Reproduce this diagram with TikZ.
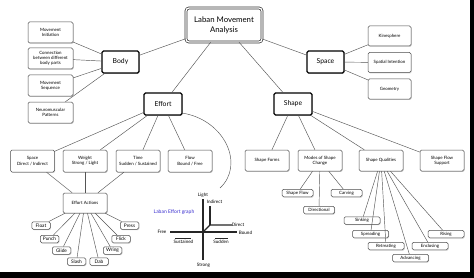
\documentclass[tikz,border=0pt]{standalone}
\usepackage{fontspec}
\setmainfont{Lato}
\usepackage{tikz}
\usetikzlibrary{
  shadows,
  calc
}
\definecolor{lmaLine}{HTML}{555555}
\definecolor{lmaBlue}{HTML}{3A2FD0}
\tikzset{
  lmabox/.style={
    draw=black!70, fill=white, rounded corners=1.5pt, line width=0.5pt,
    drop shadow={shadow xshift=0.7pt, shadow yshift=-0.9pt, opacity=0.35},
    align=center, inner sep=0.5pt, font=\fontsize{4.4}{5.2}\selectfont
  },
  subbox/.style={lmabox, minimum width=44pt, minimum height=21pt},
  leafbox/.style={lmabox, minimum height=7.5pt, font=\fontsize{4.4}{5}\selectfont},
  mainbox/.style={lmabox, draw=black, line width=1.1pt, minimum width=37pt, minimum height=22pt, font=\fontsize{6.8}{8}\selectfont},
  titlebox/.style={lmabox, draw=black!80, double=white, double distance=1.3pt, line width=0.7pt,
    minimum width=76pt, minimum height=34pt, rounded corners=3pt, font=\fontsize{7.8}{10}\selectfont},
  link/.style={draw=lmaLine, line width=0.45pt},
  effaxis/.style={line width=1.2pt, black!85},
  axlabel/.style={font=\fontsize{4.6}{5.2}\selectfont, inner sep=0.5pt}
}

\begin{document}
\begin{tikzpicture}[x=1pt, y=-1pt]
  \useasboundingbox (0,0) rectangle (474,278);
  \fill[white] (0,0) rectangle (474,278);
  \fill[black] (470,0) rectangle (474,278);
  \fill[black] (0,272) rectangle (474,278);

  % top level
  \node[titlebox] (lma) at (224,25) {Laban Movement\\Analysis};
  \node[mainbox] (body) at (120.5,62) {Body};
  \node[mainbox] (space) at (325.5,62) {Space};
  \node[mainbox, minimum width=38pt] (effort) at (163,104) {Effort};
  \node[mainbox, minimum width=38pt] (shape) at (293,104) {Shape};
  \foreach \n in {body,space,effort,shape}
    \draw[link] (lma) -- (\n);

  % body
  \foreach \name/\y/\txt in {init/32.5/{Movement\\Initiation}, conn/58.5/{Connection\\between different\\body parts},
      seq/85.5/{Movement\\Sequence}, neuro/112.5/{Neuromuscular\\Patterns}}{
    \node[subbox, minimum width=45pt] (\name) at (50.5,\y) {\txt};
    \draw[link] (\name) -- (body);
  }

  % space
  \foreach \name/\y/\txt in {kin/36/Kinesphere, intent/62.5/Spatial Intention, geom/89/Geometry}{
    \node[subbox, minimum width=43pt, minimum height=20pt] (\name) at (389.5,\y) {\txt};
    \draw[link] (space) -- (\name);
  }

  % effort
  \foreach \name/\x/\txt in {espace/32.5/{Space\\Direct / Indirect}, weight/85/{Weight\\Strong / Light},
      time/138/{Time\\Sudden / Sustained}, flow/190/{Flow\\Bound / Free}}{
    \node[subbox, minimum height=22pt] (\name) at (\x,161) {\txt};
    \draw[link] (effort) -- (\name);
  }
  \node[subbox, minimum height=20pt] (actions) at (85,203) {Effort Actions};
  \foreach \n in {espace,weight,time}
    \draw[link] (\n) -- (actions);
  \foreach \txt/\x/\y in {Float/41/225.5, Punch/49.5/239, Glide/61.5/250.5, Slash/76.5/261.5,
      Dab/99/261.5, Wring/112.5/250.5, Flick/121/239, Press/129.5/225.5}{
    \node[leafbox, minimum width=18.5pt, font=\fontsize{4.8}{5}\selectfont] (ea\txt) at (\x,\y) {\txt};
    \draw[link] (actions) -- (ea\txt);
  }

  % shape
  \foreach \name/\x/\txt in {forms/267/{Shape Forms}, modes/320/{Modes of Shape\\Change},
      quals/381/{Shape Qualities}, support/442/{Shape Flow\\Support}}{
    \node[subbox] (\name) at (\x,160.5) {\txt};
    \draw[link] (shape) -- (\name);
  }
  \foreach \name/\x/\y/\txt in {sflow/297.5/193/{Shape Flow}, direct/319/210/Directional, carve/346.5/193/Carving}{
    \node[leafbox, minimum width=31pt] (\name) at (\x,\y) {\txt};
    \draw[link] (modes) -- (\name);
  }
  \foreach \name/\x/\y/\txt in {sink/362/220.5/Sinking, spread/370.5/234/Spreading, retreat/386/246/Retreating,
      advance/410.5/258/Advancing, enclose/430/246/Enclosing, rise/446/234/Rising}{
    \node[leafbox, minimum width=36pt] (\name) at (\x,\y) {\txt};
    \draw[link] (quals) -- (\name);
  }

  % Laban effort graph
  \coordinate (egtip) at (220,188);
  \draw[link] (effort.-25) .. controls (225,120) and (245,165) .. (egtip);
  \coordinate (eg) at (203,232);
  \coordinate (egin) at (210,225);
  \draw[effaxis] (203,199) -- (203,260);
  \draw[effaxis] (170,232) -- (237,232);
  \draw[effaxis] (eg) -- (egin) -- (232,225);
  \draw[effaxis] (egin) -- (210,205.5);
  \draw[line width=0.9pt, black!85] (175,238) -- (191,238);
  \draw[line width=0.9pt, black!85] (215,238) -- (228,238);
  \node[axlabel] (light) at (203,195.5) {Light};
  \node[axlabel] (strong) at (203.5,265) {Strong};
  \node[axlabel] (free) at (162,231.5) {Free};
  \node[axlabel] (bound) at (245.5,232.5) {Bound};
  \node[axlabel] (indirect) at (214.5,202) {Indirect};
  \node[axlabel] (directlbl) at (238,224.5) {Direct};
  \node[axlabel] (sustained) at (183.5,242) {Sustained};
  \node[axlabel] (sudden) at (221,242) {Sudden};
  \node[axlabel, text=lmaBlue, font=\fontsize{5}{5.5}\selectfont] (eglabel) at (174,212.5) {Laban Effort graph};
\end{tikzpicture}
\end{document}
